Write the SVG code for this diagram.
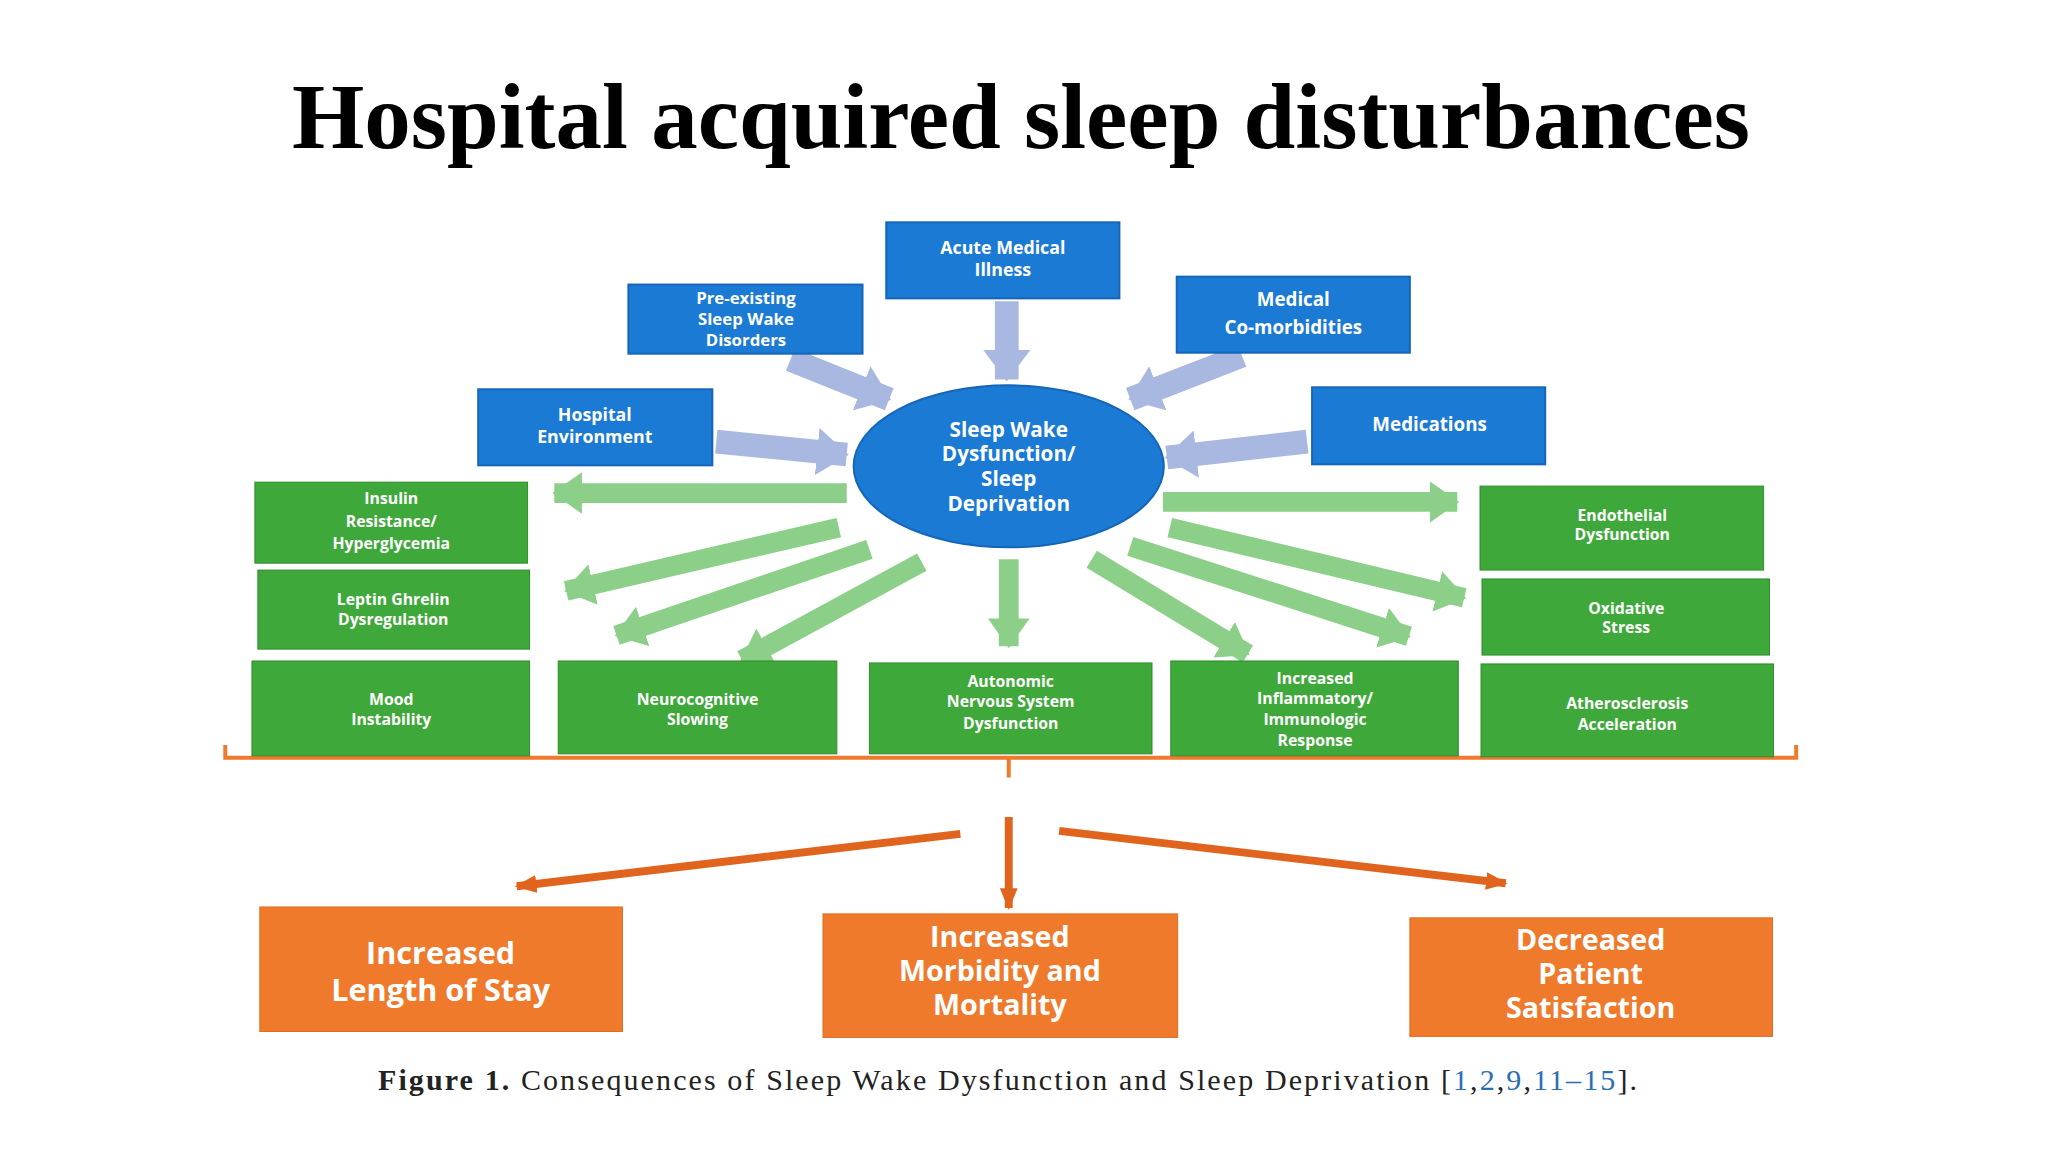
<svg xmlns="http://www.w3.org/2000/svg" width="2048" height="1152" viewBox="0 0 2048 1152">
<style>
.t{font-family:"Open Sans","Liberation Sans",sans-serif;font-weight:bold;fill:#fff;text-anchor:middle}
.b rect{fill:#1a7ad4;stroke:#1565b8;stroke-width:2}
.g rect{fill:#3fa83a;stroke:#2e8c2a;stroke-width:1}
.o rect{fill:#f07a2c;stroke:#e06a20;stroke-width:1}
.ba{stroke:#a8b8e0;stroke-width:24;fill:none}
.ga{stroke:#8ccf88;stroke-width:20;fill:none}
.oa{stroke:#e0641e;stroke-width:8;fill:none}
</style>
<defs>
<marker id="mb" markerUnits="userSpaceOnUse" markerWidth="32" markerHeight="48" refX="30" refY="24" orient="auto"><path d="M0,0L32,24L0,48z" fill="#a8b8e0"/></marker>
<marker id="mg" markerUnits="userSpaceOnUse" markerWidth="30" markerHeight="42" refX="28" refY="21" orient="auto"><path d="M0,0L30,21L0,42z" fill="#8ccf88"/></marker>
<marker id="mo" markerUnits="userSpaceOnUse" markerWidth="22" markerHeight="18" refX="20" refY="9" orient="auto"><path d="M0,0L22,9L0,18z" fill="#e0641e"/></marker>
</defs>
<rect width="2048" height="1152" fill="#fff"/>
<text x="1021" y="148" font-family="Liberation Serif,serif" font-weight="bold" font-size="93" text-anchor="middle">Hospital acquired sleep disturbances</text>
<g transform="scale(0.988)">
<g id="connectors">
<line class="ba" x1="1019" y1="305" x2="1019" y2="384" marker-end="url(#mb)"/>
<line class="ba" x1="800" y1="364" x2="900" y2="404" marker-end="url(#mb)"/>
<line class="ba" x1="1257" y1="360" x2="1144" y2="404" marker-end="url(#mb)"/>
<line class="ba" x1="725" y1="447" x2="857" y2="460" marker-end="url(#mb)"/>
<line class="ba" x1="1323" y1="447" x2="1181" y2="463" marker-end="url(#mb)"/>
<line class="ga" x1="857" y1="499" x2="561" y2="499" marker-end="url(#mg)"/>
<line class="ga" x1="1177" y1="508" x2="1475" y2="508" marker-end="url(#mg)"/>
<line class="ga" x1="849" y1="534" x2="573" y2="598" marker-end="url(#mg)"/>
<line class="ga" x1="880" y1="556" x2="624" y2="643" marker-end="url(#mg)"/>
<line class="ga" x1="933" y1="569" x2="751" y2="668" marker-end="url(#mg)"/>
<line class="ga" x1="1021" y1="566" x2="1021" y2="654" marker-end="url(#mg)"/>
<line class="ga" x1="1105" y1="566" x2="1263" y2="662" marker-end="url(#mg)"/>
<line class="ga" x1="1144" y1="553" x2="1426" y2="644" marker-end="url(#mg)"/>
<line class="ga" x1="1184" y1="534" x2="1482" y2="605" marker-end="url(#mg)"/>
<path d="M228,754V767H1818V754M1021,767V787" stroke="#f07a2c" stroke-width="4" fill="none"/>
<line class="oa" x1="972" y1="844" x2="523" y2="897" marker-end="url(#mo)"/>
<line class="oa" x1="1021" y1="827" x2="1021" y2="919" stroke-width="14" marker-end="url(#mo)"/>
<line class="oa" x1="1072" y1="841" x2="1524" y2="894" marker-end="url(#mo)"/>
</g>
<g id="acute" class="b"><rect x="897" y="225" width="236" height="77"/><text class="t" font-size="18" x="1015" y="257">Acute Medical</text><text class="t" font-size="18" x="1015" y="279">Illness</text></g>
<g id="preexisting" class="b"><rect x="636" y="288" width="237" height="70"/><text class="t" font-size="17" x="755" y="308">Pre-existing</text><text class="t" font-size="17" x="755" y="329">Sleep Wake</text><text class="t" font-size="17" x="755" y="350">Disorders</text></g>
<g id="comorb" class="b"><rect x="1191" y="280" width="236" height="77"/><text class="t" font-size="19" x="1309" y="310">Medical</text><text class="t" font-size="19" x="1309" y="338">Co-morbidities</text></g>
<g id="hospenv" class="b"><rect x="484" y="394" width="237" height="77"/><text class="t" font-size="18" x="602" y="426">Hospital</text><text class="t" font-size="18" x="602" y="448">Environment</text></g>
<g id="meds" class="b"><rect x="1328" y="392" width="236" height="78"/><text class="t" font-size="19" x="1447" y="436">Medications</text></g>
<g id="center"><ellipse cx="1021" cy="472" rx="157" ry="82" fill="#1a7ad4" stroke="#1565b8" stroke-width="2"/><text class="t" font-size="21" x="1021" y="442">Sleep Wake</text><text class="t" font-size="21" x="1021" y="467">Dysfunction/</text><text class="t" font-size="21" x="1021" y="492">Sleep</text><text class="t" font-size="21" x="1021" y="517">Deprivation</text></g>
<g id="insulin" class="g"><rect x="258" y="488" width="276" height="82"/><text class="t" font-size="16" x="396" y="510">Insulin</text><text class="t" font-size="16" x="396" y="533">Resistance/</text><text class="t" font-size="16" x="396" y="556">Hyperglycemia</text></g>
<g id="leptin" class="g"><rect x="261" y="577" width="275" height="80"/><text class="t" font-size="16" x="398" y="612">Leptin Ghrelin</text><text class="t" font-size="16" x="398" y="633">Dysregulation</text></g>
<g id="mood" class="g"><rect x="255" y="669" width="281" height="96"/><text class="t" font-size="16" x="396" y="714">Mood</text><text class="t" font-size="16" x="396" y="734">Instability</text></g>
<g id="neuro" class="g"><rect x="565" y="669" width="282" height="94"/><text class="t" font-size="16" x="706" y="714">Neurocognitive</text><text class="t" font-size="16" x="706" y="734">Slowing</text></g>
<g id="autonomic" class="g"><rect x="880" y="671" width="286" height="92"/><text class="t" font-size="16" x="1023" y="695">Autonomic</text><text class="t" font-size="16" x="1023" y="716">Nervous System</text><text class="t" font-size="16" x="1023" y="738">Dysfunction</text></g>
<g id="inflam" class="g"><rect x="1185" y="669" width="291" height="96"/><text class="t" font-size="16" x="1331" y="692">Increased</text><text class="t" font-size="16" x="1331" y="713">Inflammatory/</text><text class="t" font-size="16" x="1331" y="734">Immunologic</text><text class="t" font-size="16" x="1331" y="755">Response</text></g>
<g id="endo" class="g"><rect x="1498" y="492" width="287" height="85"/><text class="t" font-size="16" x="1642" y="527">Endothelial</text><text class="t" font-size="16" x="1642" y="547">Dysfunction</text></g>
<g id="oxid" class="g"><rect x="1500" y="586" width="291" height="77"/><text class="t" font-size="16" x="1646" y="621">Oxidative</text><text class="t" font-size="16" x="1646" y="641">Stress</text></g>
<g id="athero" class="g"><rect x="1499" y="672" width="296" height="94"/><text class="t" font-size="16" x="1647" y="718">Atherosclerosis</text><text class="t" font-size="16" x="1647" y="739">Acceleration</text></g>
<g id="los" class="o"><rect x="263" y="918" width="367" height="126"/><text class="t" font-size="31" x="446" y="976">Increased</text><text class="t" font-size="31" x="446" y="1013">Length of Stay</text></g>
<g id="morb" class="o"><rect x="833" y="925" width="359" height="125"/><text class="t" font-size="29" x="1012" y="959">Increased</text><text class="t" font-size="29" x="1012" y="993">Morbidity and</text><text class="t" font-size="29" x="1012" y="1027">Mortality</text></g>
<g id="sat" class="o"><rect x="1427" y="929" width="367" height="120"/><text class="t" font-size="29" x="1610" y="962">Decreased</text><text class="t" font-size="29" x="1610" y="996">Patient</text><text class="t" font-size="29" x="1610" y="1030">Satisfaction</text></g>
</g>
<text x="378" y="1090" font-family="Liberation Serif,serif" font-size="30" fill="#222" textLength="1259" lengthAdjust="spacing"><tspan font-weight="bold">Figure 1.</tspan> Consequences of Sleep Wake Dysfunction and Sleep Deprivation [<tspan fill="#2a6fb0">1</tspan>,<tspan fill="#2a6fb0">2</tspan>,<tspan fill="#2a6fb0">9</tspan>,<tspan fill="#2a6fb0">11–15</tspan>].</text>
</svg>
